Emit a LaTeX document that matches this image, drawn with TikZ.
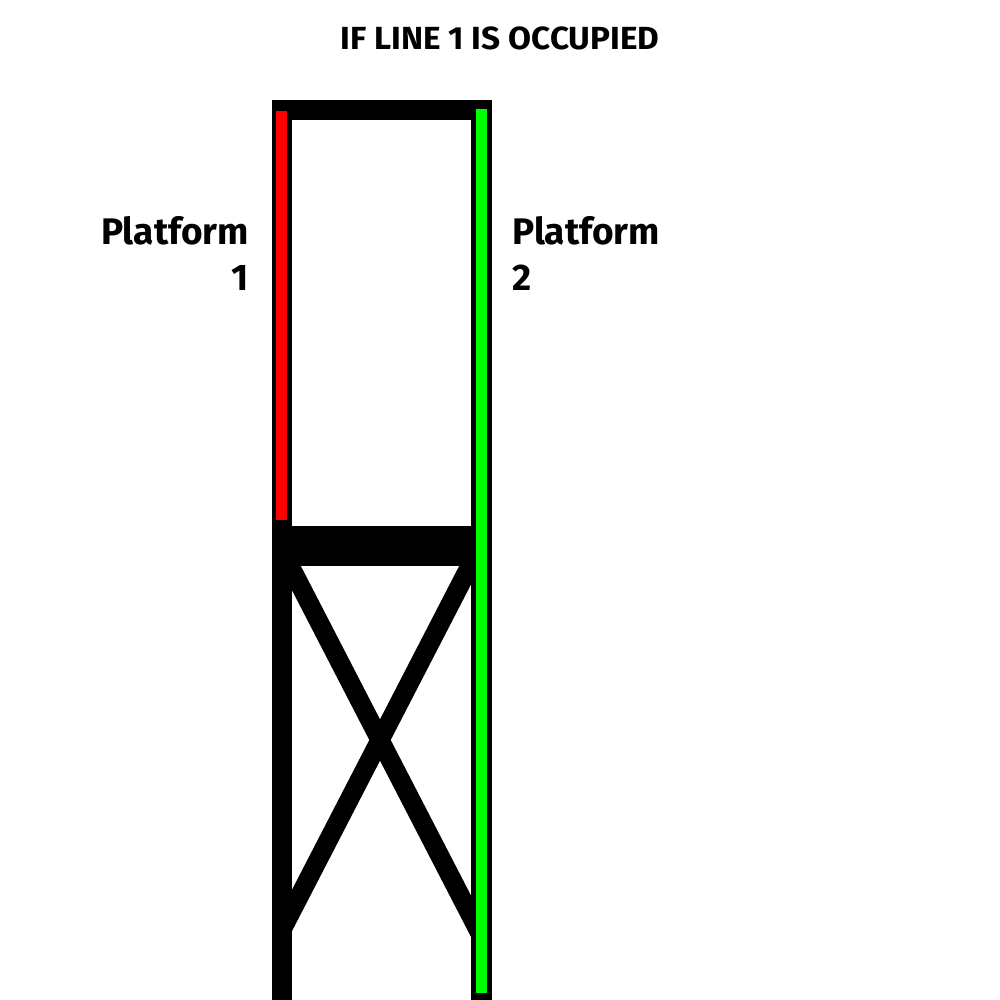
\documentclass[tikz,border=0pt]{standalone}
\usepackage{fontspec}
\setmainfont{Fira Sans}
\begin{document}
\begin{tikzpicture}[x=1pt,y=-1pt,
  lbl/.style={font=\fontsize{37}{46}\selectfont\bfseries, inner sep=0pt, align=left}]
\useasboundingbox (0,0) rectangle (1000,1000);
\fill[white] (0,0) rectangle (1000,1000);
% frame
\fill[black] (272,100) rectangle (492,120);
\fill[black] (272,100) rectangle (292,1000);
\fill[black] (471,100) rectangle (492,1000);
\fill[black] (272,526) rectangle (472,566);
% diagonals
\begin{scope}
\clip (282,540) rectangle (482,1000);
\draw[line width=19pt] (270,527) -- (490,953);
\draw[line width=19pt] (490,527) -- (270,953);
\end{scope}
% signals
\fill[red] (276,111) rectangle (287,520);
\fill[green] (476,109) rectangle (487,993);
% texts
\node[font=\fontsize{32}{34}\selectfont\bfseries, inner sep=0pt, xscale=1.04] (title) at (500,38) {IF LINE 1 IS OCCUPIED};
\node[lbl, align=right, anchor=north east] (p1) at (249,216) {Platform\\1};
\node[lbl, align=left, anchor=north west] (p2) at (512,216) {Platform\\2};
\end{tikzpicture}
\end{document}
